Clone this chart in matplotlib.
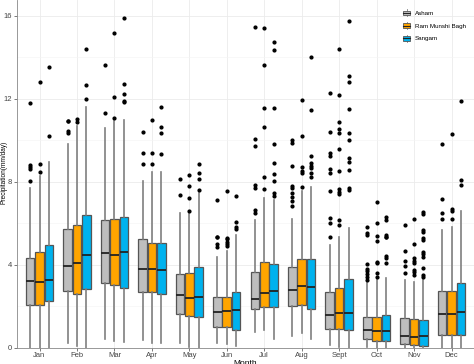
import numpy as np
import matplotlib
matplotlib.use('Agg')
import matplotlib.pyplot as plt
from matplotlib.patches import Patch, Rectangle
from matplotlib.lines import Line2D
from matplotlib.legend_handler import HandlerBase

plt.rcParams['font.family'] = ['Liberation Sans', 'DejaVu Sans']

months = ['Jan', 'Feb', 'Mar', 'Apr', 'May', 'Jun', 'Jul', 'Aug', 'Sept', 'Oct', 'Nov', 'Dec']
stations = ['Asham', 'Ram Munshi Bagh', 'Sangam']
colors = ['#BEBEBE', '#FFA500', '#00B2EE']

# box statistics (mm/day)
asham_lo = [0, 0.22, 0.4, 0.37, 0.2, 0.24, 0.77, 0.56, 0.13, 0.05, 0, 0]
asham_q1 = [2.04, 2.71, 3.13, 2.68, 1.6, 1.01, 1.88, 2.0, 0.9, 0.41, 0.16, 0.61]
asham_med = [3.21, 3.95, 4.54, 3.8, 2.52, 1.72, 2.36, 2.78, 1.57, 0.85, 0.56, 1.6]
asham_q3 = [4.33, 5.71, 6.15, 5.22, 3.53, 2.45, 3.63, 3.9, 2.66, 1.49, 1.44, 2.73]
asham_hi = [7.69, 9.8, 10.58, 8.03, 6.47, 4.38, 6.15, 6.2, 4.94, 3.1, 3.26, 5.67]
asham_out = [[8.03, 8.6, 8.7, 8.8, 11.8], [10.33, 10.45, 10.9, 10.94], [11.32, 13.62],
             [8.86, 9.38, 10.37], [7.35, 8.12], [4.86, 4.99, 5.32, 5.35, 7.11],
             [6.47, 6.63, 7.71, 7.84, 9.72, 10.05, 15.47],
             [6.82, 7.05, 7.24, 7.44, 7.68, 7.8, 8.77, 9.87, 10.0],
             [5.32, 6.0, 6.25, 7.56, 8.43, 8.6, 9.25, 9.36, 10.37, 12.25],
             [3.26, 3.4, 3.55, 3.7, 3.8, 4.01, 5.43, 5.5, 5.8],
             [3.61, 3.93, 4.17, 4.65, 5.89], [6.2, 6.47, 7.15, 9.81]]

rmb_lo = [0, 0.1, 0.33, 0.24, 0.03, 0.17, 0.85, 0.69, 0.03, 0, 0, 0]
rmb_q1 = [2.07, 2.6, 3.0, 2.68, 1.54, 0.98, 1.97, 2.04, 0.88, 0.32, 0.13, 0.61]
rmb_med = [3.18, 4.06, 4.48, 3.8, 2.39, 1.75, 2.65, 2.97, 1.65, 0.8, 0.53, 1.6]
rmb_q3 = [4.6, 5.92, 6.2, 5.03, 3.58, 2.45, 4.14, 4.26, 2.86, 1.49, 1.36, 2.73]
rmb_hi = [8.27, 10.7, 10.9, 8.48, 6.42, 4.67, 7.2, 7.55, 5.35, 3.26, 3.18, 5.8]
rmb_out = [[8.48, 8.86, 12.78], [10.85, 11.0], [11.08, 12.06, 15.15],
           [8.86, 9.38, 10.97], [6.6, 7.21, 7.8, 8.33], [4.91, 4.99, 5.1, 5.25, 5.3, 7.53],
           [7.63, 8.22, 10.62, 11.53, 13.62, 15.38], [7.75, 8.4, 8.5, 8.72, 10.18, 11.93],
           [5.89, 6.15, 7.4, 7.51, 7.63, 8.51, 9.57, 10.33, 10.53, 10.86, 12.16, 14.38],
           [3.42, 3.58, 4.06, 4.14, 5.15, 5.38, 6.02, 7.0],
           [3.5, 3.62, 3.74, 4.06, 4.18, 4.3, 4.98, 6.2], [6.2, 6.58, 6.68, 10.28]]

sangam_lo = [0, 0, 0.28, 0.2, 0, 0.08, 0.41, 0.41, 0, 0, 0, 0]
sangam_q1 = [2.25, 2.81, 2.89, 2.6, 1.49, 0.85, 1.97, 1.86, 0.85, 0.32, 0.08, 0.61]
sangam_med = [3.26, 4.46, 4.61, 3.72, 2.45, 1.8, 2.73, 2.94, 1.68, 0.8, 0.56, 1.73]
sangam_q3 = [4.94, 6.39, 6.31, 5.05, 3.9, 2.66, 4.04, 4.27, 3.29, 1.57, 1.33, 3.1]
sangam_hi = [8.96, 11.58, 10.97, 8.48, 7.44, 5.43, 7.11, 7.75, 5.75, 3.34, 3.26, 6.6]
sangam_out = [[10.2, 13.54], [12.0, 12.65, 14.39], [11.82, 11.88, 12.2, 12.7, 15.9],
              [9.35, 10.33, 10.65, 11.58], [7.58, 8.12, 8.41, 8.85], [5.73, 5.83, 6.04, 7.31],
              [7.3, 7.47, 8.04, 8.35, 8.91, 9.81, 11.53, 14.33, 14.74],
              [8.2, 8.4, 8.64, 8.75, 8.91, 9.25, 11.45, 13.99],
              [7.6, 7.68, 8.56, 8.96, 9.15, 10.0, 10.33, 11.48, 12.78, 13.1, 15.75],
              [4.06, 4.3, 4.43, 5.32, 5.35, 5.43, 6.15, 6.28],
              [3.4, 3.5, 3.85, 4.38, 4.5, 4.62, 5.19, 5.27, 5.59, 5.67, 6.44, 6.52],
              [7.84, 8.08, 11.88]]

series = [
    (asham_lo, asham_q1, asham_med, asham_q3, asham_hi, asham_out),
    (rmb_lo, rmb_q1, rmb_med, rmb_q3, rmb_hi, rmb_out),
    (sangam_lo, sangam_q1, sangam_med, sangam_q3, sangam_hi, sangam_out),
]

fig = plt.figure(figsize=(4.74, 3.64), dpi=100)
ax = fig.add_axes([0.036, 0.045, 0.964, 0.955])

x = np.arange(1, 13)
offsets = [-0.25, 0, 0.25]
for k, (lo, q1, med, q3, hi, out) in enumerate(series):
    stats = []
    for i in range(12):
        stats.append(dict(whislo=lo[i], q1=q1[i], med=med[i], q3=q3[i],
                          whishi=hi[i], fliers=out[i]))
    ax.bxp(stats, positions=x + offsets[k], widths=0.23, patch_artist=True,
           showcaps=False, manage_ticks=False,
           boxprops=dict(facecolor=colors[k], edgecolor='#555555', linewidth=0.9),
           whiskerprops=dict(color='#7f7f7f', linewidth=1.2),
           medianprops=dict(color='#222222', linewidth=1.3),
           flierprops=dict(marker='o', markerfacecolor='black', markeredgecolor='black',
                           markersize=2.0, linestyle='none'))

ax.set_xlim(0.4, 12.6)
ax.set_ylim(0, 16.75)
ax.set_xticks(x)
ax.set_xticklabels(months)
ax.set_yticks([0, 4, 8, 12, 16])
ax.set_yticks([2, 6, 10, 14], minor=True)
ax.tick_params(axis='both', labelsize=5.5, length=2, width=0.5, colors='#444444', pad=1.5)
ax.tick_params(axis='y', which='minor', length=0)
ax.grid(True, which='major', color='#EBEBEB', linewidth=0.6)
ax.grid(True, which='minor', axis='y', color='#F4F4F4', linewidth=0.4)
ax.set_axisbelow(True)
for s in ['top', 'right']:
    ax.spines[s].set_visible(False)
for s in ['left', 'bottom']:
    ax.spines[s].set_color('#888888')
    ax.spines[s].set_linewidth(0.6)
ax.set_xlabel('Month', fontsize=6, labelpad=0.5)
ax.set_ylabel('Precipitation(mm/day)', fontsize=4.7)
ax.yaxis.set_label_coords(-0.022, 0.5, transform=ax.transAxes)
ax.yaxis.label.set_y(8.45 / 16.75)


class BoxHandler(HandlerBase):
    def create_artists(self, legend, orig_handle, xdescent, ydescent, width, height,
                       fontsize, trans):
        fc = orig_handle.get_facecolor()
        x0, y0 = -xdescent, -ydescent
        cx = x0 + width / 2
        r = Rectangle((x0 + width * 0.1, y0 + height * 0.2), width * 0.8, height * 0.6,
                      facecolor=fc, edgecolor='#555555', lw=0.6, transform=trans)
        m = Line2D([x0 + width * 0.1, x0 + width * 0.9], [y0 + height / 2] * 2,
                   color='#222222', lw=0.8, transform=trans)
        w1 = Line2D([cx, cx], [y0, y0 + height * 0.2], color='#7f7f7f', lw=0.6, transform=trans)
        w2 = Line2D([cx, cx], [y0 + height * 0.8, y0 + height], color='#7f7f7f', lw=0.6,
                    transform=trans)
        return [w1, w2, r, m]


handles = [Patch(facecolor=c) for c in colors]
ax.legend(handles, stations, loc='upper right', bbox_to_anchor=(0.995, 0.99),
          frameon=False, fontsize=4.5, handlelength=1.4, handleheight=1.4,
          labelspacing=0.9, handletextpad=0.6,
          handler_map={Patch: BoxHandler()})

fig.savefig('out.png', dpi=100)
